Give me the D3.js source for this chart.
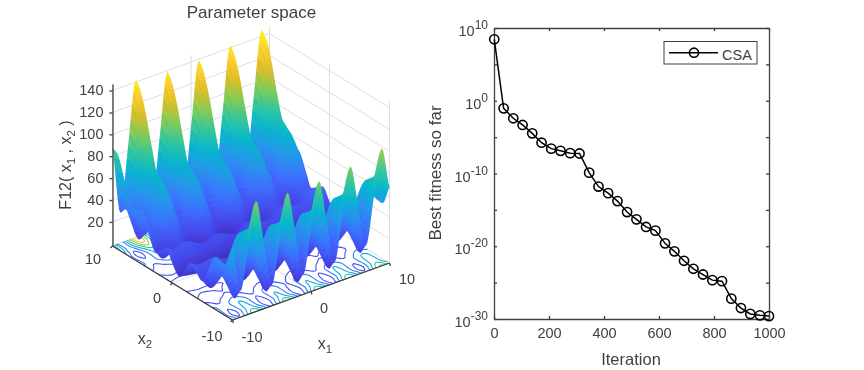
<!DOCTYPE html>
<html>
<head>
<meta charset="utf-8">
<style>
    body { margin: 0; background: #fff; }
    svg { display: block; filter: blur(0.35px); }
    text { font-family: "Liberation Sans", Arial, sans-serif; fill: #404040; }
</style>
</head>
<body>
<svg id="container" width="864" height="370"></svg>

<script src="https://d3js.org/d3.v7.min.js"></script>
<script>

// convergence curve
let iterations = [1, 35, 70, 104, 139, 173, 208, 242, 277, 311, 346, 380, 415, 449, 484,
    518, 553, 587, 622, 656, 691, 725, 760, 794, 829, 863, 898, 932, 967, 1000]
let bestFitness = [2.8e8, 9e-2, 3.9e-3, 4.7e-4, 3.3e-5, 1.7e-6, 2.6e-7, 1.3e-7, 6.3e-8, 5.6e-8,
    1.3e-10, 1.6e-12, 2e-13, 1.6e-14, 5e-16, 5e-17, 4.5e-18, 1.4e-18, 2.5e-20, 2e-21,
    1e-22, 8e-24, 1.3e-24, 2.2e-25, 1.6e-25, 6.3e-28, 3.2e-29, 5e-30, 3.2e-30, 2.5e-30]
let iterTicks = [0, 200, 400, 600, 800, 1000]
let fitnessTicks = [1e10, 1e5, 1, 1e-5, 1e-10, 1e-15, 1e-20, 1e-25, 1e-30]
let seriesName = "CSA"

// surface heights at x1, x2 = -10..10, rows run x2 = -10 first.
// typed estimates: edges and peaks, hidden interior
// cells estimated from the period-4 ridge pattern fitted to those reads
let x1Values = d3.range(-10, 11)
let x2Values = d3.range(-10, 11)
let zRows = [
    [64,22,60,99,58,17,56,96,56,16,56,96,56,17,58,99,60,22,64,105,67],
    [46,12,43,73,40,8,39,69,38,6,38,69,39,8,40,73,43,12,46,79,50],
    [45,19,42,65,39,15,38,61,37,13,37,61,38,15,39,65,42,19,45,71,49],
    [45,25,42,58,39,21,38,55,37,19,37,55,38,21,39,58,42,25,45,64,49],
    [31,16,28,38,25,12,24,35,23,10,23,35,24,12,25,38,28,16,31,45,35],
    [17,8,14,21,12,4,10,17,9,2,9,17,10,4,12,21,14,8,17,27,21],
    [21,15,18,21,15,11,14,18,13,9,13,18,14,11,15,21,18,15,21,28,25],
    [26,22,23,24,20,18,19,20,18,16,18,20,19,18,20,24,23,22,26,30,30],
    [16,14,13,13,10,10,9,9,8,8,8,9,9,10,10,13,13,14,16,19,20],
    [8,6,5,4,2,2,1,0,0,0,0,0,1,2,2,4,5,6,8,10,12],
    [16,14,13,13,10,10,9,9,8,8,8,9,9,10,10,13,13,14,16,19,20],
    [26,22,23,24,20,18,19,20,18,16,18,20,19,18,20,24,23,22,26,30,30],
    [21,15,18,21,15,11,14,18,13,9,13,18,14,11,15,21,18,15,21,28,25],
    [17,8,14,21,12,4,10,17,9,2,9,17,10,4,12,21,14,8,17,27,21],
    [31,16,28,38,25,12,24,35,23,10,23,35,24,12,25,38,28,16,31,45,35],
    [45,25,42,58,39,21,38,55,37,19,37,55,38,21,39,58,42,25,45,64,49],
    [45,19,42,65,39,15,38,61,37,13,37,61,38,15,39,65,42,19,45,71,49],
    [46,12,43,73,40,8,39,69,38,6,38,69,39,8,40,73,43,12,46,79,50],
    [64,22,60,99,58,17,56,96,56,16,56,96,56,17,58,99,60,22,64,105,67],
    [83,32,80,127,77,28,76,124,75,26,75,124,76,28,77,127,80,32,83,134,87],
    [87,26,84,142,81,21,80,139,79,20,79,139,80,21,81,142,84,26,87,146,91]
]
let zTicks = [20, 40, 60, 80, 100, 120, 140]
let floorTicks = [-10, 0, 10]
let contourLevels = [20, 40, 60, 80, 100, 120, 140]

// parula
let parulaStops = ["#3e26a8", "#4747eb", "#3e6fff", "#2796eb", "#08b5d0", "#31c69f", "#80cc59", "#dcbd29", "#fccf30", "#f9fb14"]
let zColor = d3.scaleLinear()
    .domain(d3.range(parulaStops.length).map(i => 146 * i / (parulaStops.length - 1)))
    .range(parulaStops)
    .clamp(true)

let svg = d3.select("#container")
let ink = "#404040"

// ---- left plot: oblique projection made of one scale per screen direction
let originX = 232.5, originY = 320
let x1ToX = d3.scaleLinear().domain([-10, 10]).range([0, 157])
let x1ToY = d3.scaleLinear().domain([-10, 10]).range([0, -57])
let x2ToX = d3.scaleLinear().domain([-10, 10]).range([0, -120])
let x2ToY = d3.scaleLinear().domain([-10, 10]).range([0, -74])
let zToY = d3.scaleLinear().domain([-2, 146]).range([0, -162])

function project(x1, x2, z) {
    return [originX + x1ToX(x1) + x2ToX(x2), originY + x1ToY(x1) + x2ToY(x2) + zToY(z)]
}

// resample the typed grid for drawing only, so the facets read as a smooth surface
function catmull(a, b, c, d, t) {
    return 0.5 * (2 * b + (c - a) * t + (2 * a - 5 * b + 4 * c - d) * t * t + (3 * b - a - 3 * c + d) * t * t * t)
}
function smoothLine(v, k) {
    let out = []
    for (let i = 0; i < v.length - 1; i++) {
        let a = v[Math.max(i - 1, 0)], b = v[i], c = v[i + 1], d = v[Math.min(i + 2, v.length - 1)]
        for (let s = 0; s < k; s++) out.push(catmull(a, b, c, d, s / k))
    }
    out.push(v[v.length - 1])
    return out
}
let factor = 6
let fineRows = zRows.map(r => smoothLine(r, factor))
let fineCols = d3.range(fineRows[0].length).map(i => smoothLine(fineRows.map(r => r[i]), factor))
let fine = d3.range(fineCols[0].length).map(j => fineCols.map(c => c[j]))
let fineN = fine.length
let idxToX1 = d3.scaleLinear().domain([0, fineN - 1]).range([x1Values[0], x1Values[x1Values.length - 1]])
let idxToX2 = d3.scaleLinear().domain([0, fineN - 1]).range([x2Values[0], x2Values[x2Values.length - 1]])

let space = svg.append("g")

// back walls and floor grid
let grid = space.append("g").attr("stroke", "#dedede").attr("stroke-width", 1).attr("fill", "none")
let gridLine = d3.line()
zTicks.forEach(z => {
    grid.append("path").attr("d", gridLine([project(-10, 10, z), project(10, 10, z), project(10, -10, z)]))
})
floorTicks.forEach(t => {
    grid.append("path").attr("d", gridLine([project(t, -10, -2), project(t, 10, -2), project(t, 10, 146)]))
    grid.append("path").attr("d", gridLine([project(-10, t, -2), project(10, t, -2), project(10, t, 146)]))
})

// contour lines on the floor, dropping the segments d3 adds along the grid edge
let contours = d3.contours().size([fineN, fineN]).thresholds(contourLevels)(fine.flat())
function onEdge(p) {
    return p[0] <= 0 || p[0] >= fineN || p[1] <= 0 || p[1] >= fineN
}
function floorPoint(p) {
    let i = Math.min(Math.max(p[0] - 0.5, 0), fineN - 1)
    let j = Math.min(Math.max(p[1] - 0.5, 0), fineN - 1)
    return project(idxToX1(i), idxToX2(j), -2)
}
space.append("g").selectAll("path")
    .data(contours)
    .enter()
    .append("path")
    .attr("fill", "none")
    .attr("stroke", d => zColor(d.value))
    .attr("stroke-width", 1.1)
    .attr("d", d => {
        let path = d3.path()
        d.coordinates.forEach(poly => poly.forEach(ring => {
            let pen = false
            for (let k = 1; k < ring.length; k++) {
                if (onEdge(ring[k - 1]) && onEdge(ring[k])) { pen = false; continue }
                let a = floorPoint(ring[k - 1]), b = floorPoint(ring[k])
                if (!pen) path.moveTo(a[0], a[1])
                path.lineTo(b[0], b[1])
                pen = true
            }
        }))
        return path.toString()
    })

// surface, painted far corner to near corner on a 4x canvas, then placed in the svg.
// the seams between thousands of tiny svg quads streak badly at 1x
let ss = 4
let canvas = document.createElement("canvas")
canvas.width = 864 * ss
canvas.height = 370 * ss
let ctx = canvas.getContext("2d")
ctx.scale(ss, ss)
ctx.lineWidth = 0.3
let cellPath = d3.line().context(ctx)
for (let j = fineN - 2; j >= 0; j--) {
    for (let i = fineN - 2; i >= 0; i--) {
        let a = project(idxToX1(i), idxToX2(j), fine[j][i])
        let b = project(idxToX1(i + 1), idxToX2(j), fine[j][i + 1])
        let c = project(idxToX1(i + 1), idxToX2(j + 1), fine[j + 1][i + 1])
        let e = project(idxToX1(i), idxToX2(j + 1), fine[j + 1][i])
        let col = zColor((fine[j][i] + fine[j][i + 1] + fine[j + 1][i + 1] + fine[j + 1][i]) / 4)
        ctx.beginPath()
        cellPath([a, b, c, e])
        ctx.closePath()
        ctx.fillStyle = col
        ctx.strokeStyle = col
        ctx.fill()
        ctx.stroke()
    }
}
// step down in halves so the browser's image scaling stays soft
let half = document.createElement("canvas")
half.width = 864 * 2
half.height = 370 * 2
half.getContext("2d").drawImage(canvas, 0, 0, half.width, half.height)
space.append("image")
    .attr("x", 0).attr("y", 0).attr("width", 864).attr("height", 370)
    .attr("href", half.toDataURL())

// floor edges and ticks
let edges = space.append("g").attr("stroke", ink).attr("stroke-width", 1.3).attr("fill", "none")
edges.append("path").attr("d", gridLine([project(-10, 10, -2), project(-10, -10, -2), project(10, -10, -2)]))
floorTicks.forEach(t => {
    let a = project(t, -10, -2), b = project(-10, t, -2)
    edges.append("path").attr("d", gridLine([a, [a[0] + 1, a[1] + 3]]))
    edges.append("path").attr("d", gridLine([b, [b[0] - 2, b[1] + 2]]))
})

// z axis
let leftCorner = project(-10, 10, -2)
let zAxisScale = d3.scaleLinear().domain(zToY.domain()).range([leftCorner[1], leftCorner[1] + zToY.range()[1]])
let zAxis = space.append("g")
    .attr("transform", `translate(${leftCorner[0]},0)`)
    .call(d3.axisLeft(zAxisScale).tickValues(zTicks).tickSize(3).tickPadding(6).tickSizeOuter(0))
zAxis.selectAll("path, line").attr("stroke", ink).attr("stroke-width", 1.3)
zAxis.selectAll("text").attr("font-size", 14.5).attr("fill", ink).attr("dy", "0.3em")

function addText(parent, x, y, str, size, anchor) {
    return parent.append("text").attr("x", x).attr("y", y).attr("font-size", size)
        .attr("text-anchor", anchor || "middle").text(str)
}

let x2LabelAt = [[212, 341], [157, 303], [93, 264]]
let x1LabelAt = [[252, 342], [324, 313], [407, 284]]
floorTicks.forEach((t, i) => {
    addText(space, x2LabelAt[i][0], x2LabelAt[i][1], String(t), 14.5)
    addText(space, x1LabelAt[i][0], x1LabelAt[i][1], String(t), 14.5)
})

function withSub(parent, x, y, size, parts) {
    let t = parent.append("text").attr("font-size", size).attr("text-anchor", "middle")
        .attr("x", x).attr("y", y)
    parts.forEach(p => {
        if (p.sub) {
            t.append("tspan").attr("font-size", size * 0.72).attr("dy", 4).text(p.sub)
        } else {
            t.append("tspan").attr("dy", p.up ? -4 : 0).text(p.text)
        }
    })
    return t
}
withSub(space, 145, 344, 16, [{text: "x"}, {sub: "2"}])
withSub(space, 325, 349, 16, [{text: "x"}, {sub: "1"}])
withSub(space, 0, 0, 16, [{text: "F12( x"}, {sub: "1"}, {text: " , x", up: true}, {sub: "2"}, {text: " )", up: true}])
    .attr("transform", "translate(71,165) rotate(-90)")
addText(space, 251.5, 18, "Parameter space", 17)
    .attr("fill", "#1a1a1a")

// ---- right plot
let xScale = d3.scaleLinear().domain([0, 1000]).range([494, 769])
let yScale = d3.scaleLog().domain([1e-30, 1e10]).range([319, 28])

let plot = svg.append("g")

plot.append("g")
    .attr("transform", "translate(0,319)")
    .call(d3.axisBottom(xScale).tickValues(iterTicks).tickSize(-3).tickPadding(9).tickSizeOuter(0).tickFormat(d3.format("d")))
    .selectAll("text").attr("font-size", 14.5).attr("fill", ink)
plot.append("g")
    .attr("transform", "translate(0,28)")
    .call(d3.axisTop(xScale).tickValues(iterTicks).tickSize(-3).tickFormat("").tickSizeOuter(0))
plot.append("g")
    .attr("transform", "translate(494,0)")
    .call(d3.axisLeft(yScale).tickValues(fitnessTicks).tickSize(-3).tickSizeOuter(0).tickFormat(""))
plot.append("g")
    .attr("transform", "translate(769,0)")
    .call(d3.axisRight(yScale).tickValues(fitnessTicks).tickSize(-3).tickSizeOuter(0).tickFormat(""))
plot.selectAll("path.domain, line").attr("stroke", ink).attr("stroke-width", 1.3)

// power-of-ten labels every second tick
fitnessTicks.filter((d, i) => i % 2 === 0).forEach(d => {
    let t = plot.append("text")
        .attr("x", 488)
        .attr("y", yScale(d) + 8)
        .attr("text-anchor", "end")
        .attr("font-size", 14.5)
    t.append("tspan").text("10")
    t.append("tspan").attr("font-size", 12).attr("dy", -7).text(Math.round(Math.log10(d)))
})

addText(plot, 631, 364.5, "Iteration", 16.5)
addText(plot, 0, 0, "Best fitness so far", 17)
    .attr("transform", "translate(441,173) rotate(-90)")

let curve = d3.line().x(d => xScale(d[0])).y(d => yScale(d[1]))
let points = iterations.map((d, i) => [d, bestFitness[i]])

plot.append("path")
    .attr("d", curve(points))
    .attr("fill", "none")
    .attr("stroke", "#000")
    .attr("stroke-width", 1.5)
plot.append("g").selectAll("circle")
    .data(points)
    .enter()
    .append("circle")
    .attr("cx", d => xScale(d[0]))
    .attr("cy", d => yScale(d[1]))
    .attr("r", 4.6)
    .attr("fill", "none")
    .attr("stroke", "#000")
    .attr("stroke-width", 1.6)

// legend
let legend = plot.append("g")
legend.append("rect")
    .attr("x", 664).attr("y", 41.5).attr("width", 93).attr("height", 22.5)
    .attr("fill", "#fff").attr("stroke", ink).attr("stroke-width", 1)
legend.append("line")
    .attr("x1", 669).attr("x2", 718).attr("y1", 52.7).attr("y2", 52.7)
    .attr("stroke", "#000").attr("stroke-width", 1.5)
legend.append("circle")
    .attr("cx", 694).attr("cy", 52.7).attr("r", 4.6)
    .attr("fill", "none").attr("stroke", "#000").attr("stroke-width", 1.6)
addText(legend, 722, 60, seriesName, 14.5, "start")

</script>
</body>
</html>
